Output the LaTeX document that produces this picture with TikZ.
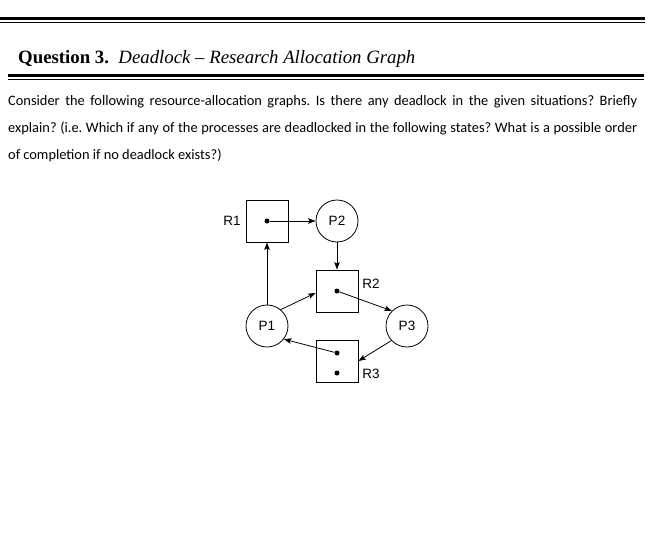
\documentclass[tikz,border=0pt]{standalone}
\usepackage{fontspec}
\setmainfont{Carlito}
\newfontfamily\titlefont{Liberation Serif}
\newfontfamily\graphfont{Liberation Sans}
\usepackage{xcolor}
\definecolor{Ink}{HTML}{000000}
\usetikzlibrary{arrows.meta}
\tikzset{
  rbox/.style={draw=Ink,line width=.8pt,minimum size=42pt,inner sep=0pt},
  proc/.style={circle,draw=Ink,line width=.8pt,minimum size=42pt,inner sep=0pt,
    font=\graphfont\fontsize{13.5}{15}\selectfont},
  lbl/.style={font=\graphfont\fontsize{13.5}{15}\selectfont,inner sep=0pt},
  dot/.style={circle,fill=Ink,minimum size=5pt,inner sep=0pt},
  arrow/.style={-{Stealth[length=7.5pt,width=5.5pt,inset=1.5pt]},line width=.8pt,draw=Ink},
  body/.style={anchor=base west,inner sep=0pt,font=\fontsize{14.4}{18}\selectfont}
}
\frenchspacing
\newcommand{\justline}[1]{\makebox[629pt][s]{#1}}
\begin{document}
\begin{tikzpicture}[x=1pt,y=-1pt]
\useasboundingbox (0,0) rectangle (662,546);
% heading rules
\fill[Ink] (0,16.7) rectangle (645,20);
\fill[Ink] (0,21.7) rectangle (645,22.7);
\fill[Ink] (8,74) rectangle (644,77.3);
\fill[Ink] (8,78.7) rectangle (644,79.7);
\node[anchor=base west,inner sep=0pt,font=\titlefont\fontsize{18.8}{22}\selectfont] (title) at (18,63)
  {\textbf{Question 3.}\ \ \textit{Deadlock – Research Allocation Graph}};
\node[body] (line1) at (8,105) {\justline{Consider the following resource-allocation graphs. Is there any deadlock in the given situations? Briefly}};
\node[body] (line2) at (8,132) {\justline{explain? (i.e. Which if any of the processes are deadlocked in the following states? What is a possible order}};
\node[body] (line3) at (8,159) {of completion if no deadlock exists?)};
% resources
\node[rbox] (R1) at (267,221) {};
\node[rbox] (R2) at (337,291) {};
\node[rbox] (R3) at (337,361) {};
\node[dot] (d1) at (267,221) {};
\node[dot] (d2) at (337,291) {};
\node[dot] (d3a) at (337,353) {};
\node[dot] (d3b) at (337,373) {};
\node[lbl] (lR1) at (232,221) {R1};
\node[lbl] (lR2) at (371,284) {R2};
\node[lbl] (lR3) at (371,374) {R3};
% processes
\node[proc] (P1) at (267,326) {P1};
\node[proc] (P2) at (337,221) {P2};
\node[proc] (P3) at (407,326) {P3};
% edges
\draw[arrow] (d1)--(P2);
\draw[arrow] (P2)--(R2);
\draw[arrow] (P1)--(R1);
\draw[arrow] (P1.50)--([yshift=-2pt]R2.west);
\draw[arrow] (d2)--(P3.135);
\draw[arrow] (P3.223)--(R3.east);
\draw[arrow] (d3a)--(P1.-38);
\end{tikzpicture}
\end{document}
